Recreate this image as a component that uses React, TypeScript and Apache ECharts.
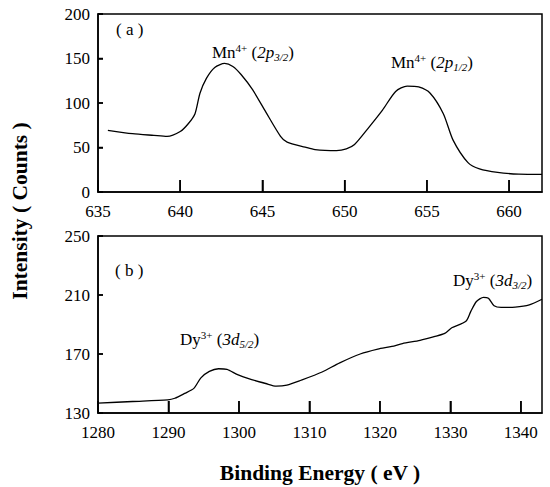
import React, { useEffect, useRef } from "react";
import * as echarts from "echarts";

const topEnergy = [635.6, 637.1, 638.4, 639.2, 640.0, 640.5, 640.9, 641.2, 641.6, 642.1, 642.7, 643.2, 643.7, 644.4, 645.2, 646.1, 646.5, 647.6, 648.2, 649.5, 650.1, 650.6, 651.4, 652.3, 653.1, 653.8, 654.5, 655.2, 656.0, 656.6, 657.5, 658.2, 659.3, 660.6, 662.0];
const topCounts = [69.3, 65.5, 63.6, 62.5, 68, 77, 88, 111, 128, 140, 144.5, 141, 132, 115, 90, 62.5, 56, 50.4, 47.7, 46.6, 48.5, 53.4, 71, 92, 113, 119, 118, 111, 88, 58, 33, 26, 22, 20, 19.7];

const bottomEnergy = [1280, 1284.9, 1289.9, 1290.9, 1292.3, 1293.6, 1294.6, 1295.8, 1297.1, 1298.3, 1299.8, 1301.8, 1303.8, 1305.3, 1306.8, 1308.8, 1311.8, 1314.3, 1317.2, 1319.7, 1321.7, 1323.2, 1325.7, 1327.7, 1329.2, 1330.2, 1332.2, 1332.9, 1333.7, 1334.7, 1335.4, 1336.2, 1337.2, 1339.2, 1341.2, 1343];
const bottomCounts = [136.7, 137.8, 138.9, 140, 143.3, 146.7, 153.8, 158.2, 160, 159.6, 156, 152.7, 150, 148.2, 148.9, 152.2, 157.8, 164, 170, 173.3, 175.1, 177.1, 179.3, 181.8, 184, 187.8, 192.2, 198.9, 205.6, 208.4, 207.8, 202.7, 201.6, 201.8, 203.3, 207.1];

const topXTicks = { min: 635, max: 662, interval: 5 };
const topYTicks = { min: 0, max: 200, interval: 50 };
const bottomXTicks = { min: 1280, max: 1343, interval: 10 };
const bottomYTicks = { min: 130, max: 250, interval: 40 };

const SERIF = "Liberation Serif";

const richStyles = {
  n: { fontFamily: SERIF, fontSize: 17, lineHeight: 20, verticalAlign: "middle", color: "#000" },
  i: { fontFamily: SERIF, fontSize: 17, fontStyle: "italic", lineHeight: 20, verticalAlign: "middle", color: "#000" },
  sup: { fontFamily: SERIF, fontSize: 11, lineHeight: 12, verticalAlign: "top", color: "#000" },
  sub: { fontFamily: SERIF, fontSize: 11, fontStyle: "italic", lineHeight: 12, verticalAlign: "bottom", color: "#000" },
};

function ann(left: number, top: number, text: string) {
  return {
    type: "text",
    left,
    top,
    style: { text, rich: richStyles, fill: "#000", fontFamily: SERIF, fontSize: 17 },
  };
}

function tickValues(range: { min: number; max: number; interval: number }) {
  const out: number[] = [];
  for (let v = range.min; v <= range.max + 1e-9; v += range.interval) out.push(v);
  return out;
}

function xAxis(gridIndex: number, range: { min: number; max: number; interval: number }) {
  return {
    type: "value",
    gridIndex,
    min: range.min,
    max: range.max,
    interval: range.interval,
    axisLine: { show: true, onZero: false, lineStyle: { color: "#000", width: 1.5 } },
    axisTick: { show: true, inside: true, length: 12, lineStyle: { color: "#000", width: 1.5 } },
    axisLabel: { color: "#000", fontFamily: SERIF, fontSize: 17, margin: 11, showMaxLabel: false, formatter: (v: number) => String(v) },
    splitLine: { show: false },
  };
}

function yAxis(gridIndex: number, range: { min: number; max: number; interval: number }) {
  return {
    type: "value",
    gridIndex,
    min: range.min,
    max: range.max,
    interval: range.interval,
    axisLine: { show: true, onZero: false, lineStyle: { color: "#000", width: 1.5 } },
    axisTick: { show: true, inside: true, length: 5, lineStyle: { color: "#000", width: 1.5 } },
    axisLabel: { color: "#000", fontFamily: SERIF, fontSize: 17, margin: 8, formatter: (v: number) => String(v) },
    splitLine: { show: false },
  };
}

export default function App() {
  const ref = useRef<HTMLDivElement>(null);
  useEffect(() => {
    document.body.style.margin = "0";
    const chart = echarts.init(ref.current!, null, { renderer: "svg" });
    chart.setOption({
      animation: false,
      grid: [
        { left: 98, right: 8, top: 14, height: 178, show: true, borderColor: "#000", borderWidth: 1.5 },
        { left: 98, right: 8, top: 236, height: 177, show: true, borderColor: "#000", borderWidth: 1.5 },
      ],
      xAxis: [xAxis(0, topXTicks), xAxis(1, bottomXTicks)],
      yAxis: [yAxis(0, topYTicks), yAxis(1, bottomYTicks)],
      series: [
        {
          type: "line",
          xAxisIndex: 0,
          yAxisIndex: 0,
          data: topEnergy.map((e, i) => [e, topCounts[i]]),
          showSymbol: false,
          smooth: 0.25,
          lineStyle: { color: "#000", width: 1.3 },
        },
        {
          type: "line",
          xAxisIndex: 1,
          yAxisIndex: 1,
          data: bottomEnergy.map((e, i) => [e, bottomCounts[i]]),
          showSymbol: false,
          smooth: 0.25,
          lineStyle: { color: "#000", width: 1.3 },
        },
      ],
    });

    const tickLines: any[] = [];
    const panels = [
      { ax: 0, xr: topXTicks, yr: topYTicks },
      { ax: 1, xr: bottomXTicks, yr: bottomYTicks },
    ];
    panels.forEach((p) => {
      const yBottom = chart.convertToPixel({ yAxisIndex: p.ax } as any, p.yr.min) as unknown as number;
      const xLeft = chart.convertToPixel({ xAxisIndex: p.ax } as any, p.xr.min) as unknown as number;
      if (typeof yBottom === "number" && typeof xLeft === "number" && isFinite(yBottom) && isFinite(xLeft)) {
        tickValues(p.xr).forEach((v) => {
          const px = chart.convertToPixel({ xAxisIndex: p.ax } as any, v) as unknown as number;
          if (typeof px === "number" && isFinite(px)) {
            tickLines.push({
              type: "line",
              silent: true,
              z: 10,
              shape: { x1: px, y1: yBottom, x2: px, y2: yBottom - 12 },
              style: { stroke: "#000", lineWidth: 1.5 },
            });
          }
        });
        tickValues(p.yr).forEach((v) => {
          const py = chart.convertToPixel({ yAxisIndex: p.ax } as any, v) as unknown as number;
          if (typeof py === "number" && isFinite(py)) {
            tickLines.push({
              type: "line",
              silent: true,
              z: 10,
              shape: { x1: xLeft, y1: py, x2: xLeft + 5, y2: py },
              style: { stroke: "#000", lineWidth: 1.5 },
            });
          }
        });
      }
    });

    chart.setOption({
      graphic: [
        ann(116, 21, "{n|( a )}"),
        ann(212, 42, "{n|Mn}{sup|4+}{n| (}{i|2p}{sub|3/2}{n|)}"),
        ann(391, 52, "{n|Mn}{sup|4+}{n| (}{i|2p}{sub|1/2}{n|)}"),
        ann(115, 262, "{n|( b )}"),
        ann(180, 329, "{n|Dy}{sup|3+}{n| (}{i|3d}{sub|5/2}{n|)}"),
        ann(453, 270, "{n|Dy}{sup|3+}{n| (}{i|3d}{sub|3/2}{n|)}"),
        {
          type: "text",
          x: 320,
          y: 473,
          style: {
            text: "Binding Energy ( eV )",
            fontFamily: SERIF,
            fontSize: 21.5,
            fontWeight: "bold",
            fill: "#000",
            align: "center",
            verticalAlign: "middle",
          },
        },
        {
          type: "text",
          x: 20,
          y: 211,
          rotation: Math.PI / 2,
          style: {
            text: "Intensity ( Counts )",
            fontFamily: SERIF,
            fontSize: 21.5,
            fontWeight: "bold",
            fill: "#000",
            align: "center",
            verticalAlign: "middle",
          },
        },
        ...tickLines,
      ],
    });
    return () => chart.dispose();
  }, []);
  return <div ref={ref} style={{ width: 550, height: 487, background: "#fff" }} />;
}
